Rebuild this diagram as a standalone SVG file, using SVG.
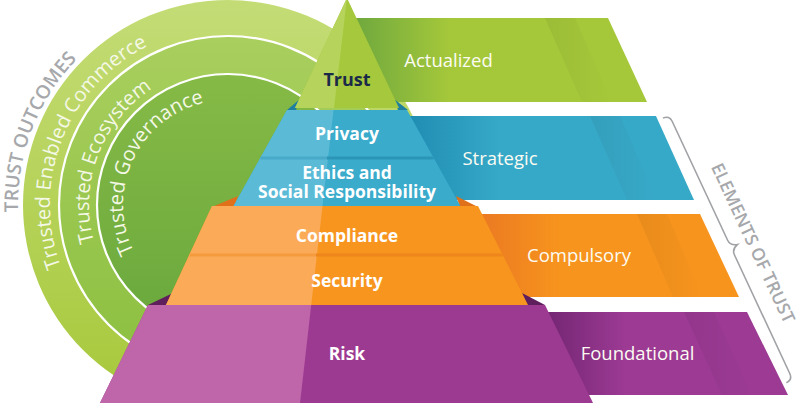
<svg xmlns="http://www.w3.org/2000/svg" width="800" height="403" viewBox="0 0 800 403">
<style>
.lab{font-family:"Open Sans","Liberation Sans",sans-serif;font-weight:700;font-size:17.5px;fill:#ffffff;text-anchor:middle}
.rib{font-family:"Open Sans","Liberation Sans",sans-serif;font-weight:400;font-size:18.5px;fill:#fbfbf2;text-anchor:middle}
.ring{font-family:"Open Sans","Liberation Sans",sans-serif;font-weight:400;font-size:20px;fill:#f4f8e6}
.gray{font-family:"Open Sans","Liberation Sans",sans-serif;font-weight:600;font-size:19px;fill:#a6a8ab}
.wl{fill:none;stroke:#ffffff;stroke-width:2.2}
</style>
<defs>
<linearGradient id="gOuter" x1="0" y1="0" x2="0" y2="1"><stop offset="0" stop-color="#c4dc76"/><stop offset="1" stop-color="#a6c83a"/></linearGradient>
<linearGradient id="gMid" x1="0" y1="0" x2="0" y2="1"><stop offset="0" stop-color="#a9cf5e"/><stop offset="1" stop-color="#8bbf40"/></linearGradient>
<linearGradient id="gInner" x1="0" y1="0" x2="0" y2="1"><stop offset="0" stop-color="#86ba46"/><stop offset="1" stop-color="#69a83d"/></linearGradient>
<linearGradient id="rg" gradientUnits="userSpaceOnUse" x1="360" y1="0" x2="450" y2="0"><stop offset="0" stop-color="#72aa3e"/><stop offset="1" stop-color="#a5c83a"/></linearGradient>
<linearGradient id="rb" gradientUnits="userSpaceOnUse" x1="410" y1="0" x2="500" y2="0"><stop offset="0" stop-color="#1f8db2"/><stop offset="1" stop-color="#37a9c8"/></linearGradient>
<linearGradient id="ro" gradientUnits="userSpaceOnUse" x1="485" y1="0" x2="560" y2="0"><stop offset="0" stop-color="#ec7b22"/><stop offset="1" stop-color="#f7941d"/></linearGradient>
<linearGradient id="rp" gradientUnits="userSpaceOnUse" x1="550" y1="0" x2="625" y2="0"><stop offset="0" stop-color="#752774"/><stop offset="1" stop-color="#9c3a94"/></linearGradient>
<linearGradient id="fsh" x1="0" y1="0" x2="1" y2="0"><stop offset="0" stop-color="#000" stop-opacity="0.06"/><stop offset="1" stop-color="#000" stop-opacity="0"/></linearGradient>
<path id="pOuter" d="M73.8,294 A178,178 0 0 1 288.9,37.7"/>
<path id="pMid" d="M107.6,274.5 A139,139 0 0 1 275.5,74.4"/>
<path id="pInner" d="M137.1,257.5 A105,105 0 0 1 263.9,106.3"/>
<path id="pTO" d="M46.1,310 A210,210 0 0 1 299.8,7.7"/>
</defs>

<g id="trust-outcomes">
<circle cx="228" cy="205" r="205" fill="url(#gOuter)"/>
<circle cx="228" cy="205" r="169" fill="url(#gMid)"/>
<circle cx="228" cy="205" r="131" fill="url(#gInner)"/>
<circle class="wl" cx="228" cy="205" r="169"/>
<circle class="wl" cx="228" cy="205" r="131"/>
<text class="ring"><textPath href="#pOuter" startOffset="160" text-anchor="middle">Trusted Enabled Commerce</textPath></text>
<text class="ring"><textPath href="#pMid" startOffset="123" text-anchor="middle">Trusted Ecosystem</textPath></text>
<text class="ring"><textPath href="#pInner" startOffset="101" text-anchor="middle">Trusted Governance</textPath></text>
<text class="gray"><textPath href="#pTO" startOffset="187" text-anchor="middle">TRUST OUTCOMES</textPath></text>
</g>

<g id="ribbon-actualized">
<polygon points="350,18 608,18 647,102 350,102" fill="url(#rg)"/>
<polygon points="545,18 575,18 612,102 582,102" fill="url(#fsh)"/>
<text class="rib" x="448.5" y="67">Actualized</text>
</g>
<g id="ribbon-strategic">
<polygon points="400,116 656,116 694,200 440,200" fill="url(#rb)"/>
<polygon points="590,116 620,116 657,200 627,200" fill="url(#fsh)"/>
<text class="rib" x="500" y="165">Strategic</text>
</g>
<g id="ribbon-compulsory">
<polygon points="470,214 700,214 739,297 500,297" fill="url(#ro)"/>
<polygon points="637,214 667,214 703,297 673,297" fill="url(#fsh)"/>
<text class="rib" x="579" y="262">Compulsory</text>
</g>
<g id="ribbon-foundational">
<polygon points="520,312 747,312 788,395 560,395" fill="url(#rp)"/>
<polygon points="684,312 714,312 752,395 722,395" fill="url(#fsh)"/>
<text class="rib" x="637.5" y="360">Foundational</text>
</g>

<g id="wedges">
<polygon points="287,110 300,99 296,110" fill="#1f7f9e"/>
<polygon points="408,110 394,99 398,110" fill="#1f7f9e"/>
<polygon points="212,207 238,196 234,207" fill="#e0701a"/>
<polygon points="478,207 456,196 460,207" fill="#e0701a"/>
<polygon points="148,305 173,293 167,305" fill="#5e1f5c"/>
<polygon points="545,305 522,293 527,305" fill="#5e1f5c"/>
</g>

<g id="trust">
<polygon points="347,-2 399,108 295,108" fill="#a6c83c"/>
<polygon points="347,-2 334,108 295,108" fill="#b6d35c"/>
<text class="lab" x="347" y="86" style="fill:#1b2a48;font-size:18px">Trust</text>
</g>
<g id="privacy-ethics">
<polygon points="287,110 407,110 461,207 233,207" fill="#3aabcb"/>
<polygon points="287,110 333.5,110 322.4,207 233,207" fill="#5bbbd7"/>
<line x1="260.5" y1="158" x2="334" y2="158" stroke="#48a9c8" stroke-width="3"/>
<line x1="327" y1="158" x2="433.5" y2="158" stroke="#2b95b8" stroke-width="3"/>
<text class="lab" x="347" y="140">Privacy</text>
<text class="lab" x="347" y="179">Ethics and</text>
<text class="lab" x="347" y="198">Social Responsibility</text>
</g>
<g id="compliance-security">
<polygon points="212,206 478,206 528,305 166,305" fill="#f7951f"/>
<polygon points="212,206 322.5,206 311.2,305 166,305" fill="#fbab58"/>
<line x1="189.5" y1="255" x2="318" y2="255" stroke="#f59b3e" stroke-width="3"/>
<line x1="316" y1="255" x2="502.5" y2="255" stroke="#ee861c" stroke-width="3"/>
<text class="lab" x="347" y="242">Compliance</text>
<text class="lab" x="347" y="287">Security</text>
</g>
<g id="risk">
<polygon points="148,305 545,305 594,405 99,405" fill="#9c3a91"/>
<polygon points="148,305 311.2,305 299.8,405 99,405" fill="#bf65aa"/>
<text class="lab" x="347" y="360">Risk</text>
</g>

<g id="connectors">
<path d="M-146,7 Q-146,0 -139,0 L-8,0 Q-2,0 0,-7 Q2,0 8,0 L139,0 Q146,0 146,7" transform="translate(731,247.5) rotate(65)" fill="none" stroke="#a0a2a5" stroke-width="1.6"/>
</g>
<g id="elements-of-trust">
<text class="gray" transform="translate(753,243) rotate(65)" x="0" y="6" text-anchor="middle" style="font-size:17.5px">ELEMENTS OF TRUST</text>
</g>
</svg>
